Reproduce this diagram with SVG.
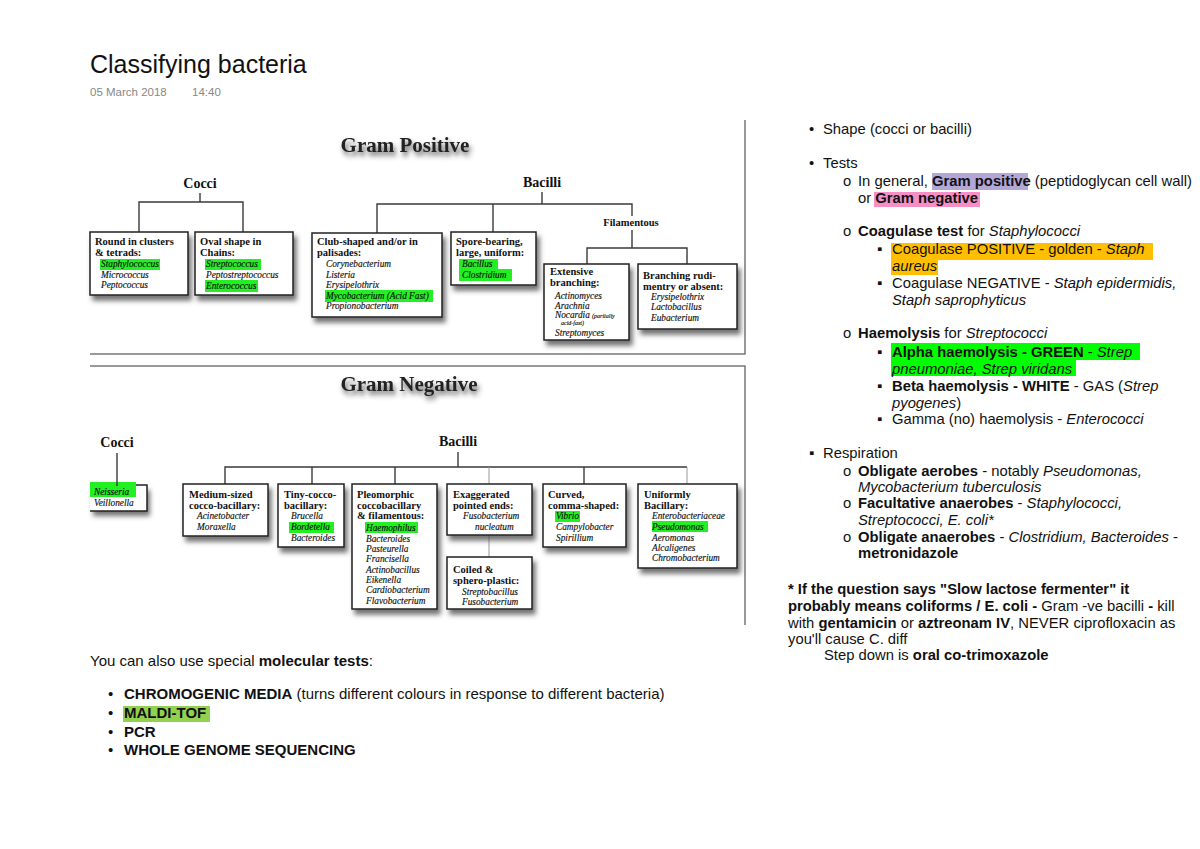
<svg xmlns="http://www.w3.org/2000/svg" width="1200" height="849" viewBox="0 0 1200 849">
<defs>
<filter id="bsh" x="-20%" y="-20%" width="150%" height="160%">
<feDropShadow dx="3" dy="5" stdDeviation="2.5" flood-color="#444" flood-opacity="0.75"/>
</filter>
<filter id="tsh" x="-10%" y="-30%" width="130%" height="180%">
<feDropShadow dx="2" dy="4" stdDeviation="2.5" flood-color="#333" flood-opacity="0.8"/>
</filter>
</defs>
<style>
.sans{font-family:"Liberation Sans",Arial,sans-serif;fill:#111}
.t{font-family:"Liberation Sans",Arial,sans-serif;font-size:14.8px;fill:#111}
.tb{font-family:"Liberation Sans",Arial,sans-serif;font-size:15px;fill:#111}
.b{font-weight:bold}
.i{font-style:italic}
.gt{font-family:"Liberation Serif","Times New Roman",serif;font-weight:bold;font-size:21px;fill:#222;filter:url(#tsh)}
.hd{font-family:"Liberation Serif","Times New Roman",serif;font-weight:bold;font-size:14px;fill:#111}
.h{font-family:"Liberation Serif","Times New Roman",serif;font-weight:bold;font-size:10.5px;fill:#111}
.sp{font-family:"Liberation Serif","Times New Roman",serif;font-style:italic;font-size:9.3px;fill:#111;stroke:#111;stroke-width:0.15}
.sm{font-size:6px}
.box{fill:#fff;stroke:#222;stroke-width:1.5;filter:url(#bsh)}
.hl{fill:#22f022}
.ln{fill:none;stroke:#3a3a3a;stroke-width:1.4}
.lnl{fill:none;stroke:#999;stroke-width:1}
.frame{fill:none;stroke:#777;stroke-width:1.5}
</style>
<rect width="1200" height="849" fill="#fff"/>

<g id="header">
<text class="sans" x="90" y="73" font-size="25">Classifying bacteria</text>
<text x="90" y="96" font-family="Liberation Sans,Arial,sans-serif" font-size="11.5" fill="#888">05 March 2018</text>
<text x="192" y="96" font-family="Liberation Sans,Arial,sans-serif" font-size="11.5" fill="#888">14:40</text>
</g>

<g id="frames">
<path class="frame" d="M90,354 H745 V120"/>
<path class="frame" d="M90,366 H745 V625" stroke-width="2"/>
</g>

<g id="connectors">
<path class="ln" d="M200,193 V202 M139,232 V202 H243 V232"/>
<path class="ln" d="M542,192 V204 M377,233 V204 H632 V216 M493,204 V232"/>
<path class="ln" d="M632,230 V248 M587,264 V248 H687 V264"/>
<path class="ln" d="M117,453 V485"/>
<path class="ln" d="M458,452 V467 M225,484 V467 H687 M312,467 V484 M395,467 V484 M584,467 V484"/>
<path class="lnl" d="M489,467 V484 M687,467 V484 M489,535 V557"/>
</g>

<g id="gram-positive">
<text class="gt" x="405" y="152" text-anchor="middle">Gram Positive</text>
<text class="hd" x="200" y="188" text-anchor="middle">Cocci</text>
<text class="hd" x="542" y="187" text-anchor="middle">Bacilli</text>
<text class="h" x="631" y="226" text-anchor="middle">Filamentous</text>
</g>

<g id="gp-round">
<rect class="box" x="90" y="232" width="98" height="63"/>
<rect class="hl" x="100" y="259" width="60" height="11"/>
<text class="h" x="95" y="245">Round in clusters</text>
<text class="h" x="95" y="256">&amp; tetrads:</text>
<text class="sp" x="101" y="267">Staphylococcus</text>
<text class="sp" x="101" y="277.5">Micrococcus</text>
<text class="sp" x="101" y="288">Peptococcus</text>
</g>

<g id="gp-oval">
<rect class="box" x="195" y="232" width="98" height="63"/>
<rect class="hl" x="205" y="259" width="56" height="11"/>
<rect class="hl" x="205" y="280" width="53" height="12"/>
<text class="h" x="200" y="245">Oval shape in</text>
<text class="h" x="200" y="256">Chains:</text>
<text class="sp" x="206" y="267">Streptococcus</text>
<text class="sp" x="206" y="277.5">Peptostreptococcus</text>
<text class="sp" x="206" y="288.5">Enterococcus</text>
</g>

<g id="gp-club">
<rect class="box" x="312" y="233" width="130" height="84"/>
<rect class="hl" x="325" y="290" width="108" height="12"/>
<text class="h" x="317" y="245">Club-shaped and/or in</text>
<text class="h" x="317" y="256">palisades:</text>
<text class="sp" x="326" y="267">Corynebacterium</text>
<text class="sp" x="326" y="277.5">Listeria</text>
<text class="sp" x="326" y="288">Erysipelothrix</text>
<text class="sp" x="326" y="298.5">Mycobacterium (Acid Fast)</text>
<text class="sp" x="326" y="309">Propionobacterium</text>
</g>

<g id="gp-spore">
<rect class="box" x="451" y="232" width="85" height="53"/>
<rect class="hl" x="459" y="259" width="39" height="11"/>
<rect class="hl" x="459" y="269" width="53" height="12"/>
<text class="h" x="456" y="245">Spore-bearing,</text>
<text class="h" x="456" y="256">large, uniform:</text>
<text class="sp" x="462" y="267">Bacillus</text>
<text class="sp" x="462" y="277.5">Clostridium</text>
</g>

<g id="gp-extensive">
<rect class="box" x="544" y="264" width="85" height="76"/>
<text class="h" x="550" y="275">Extensive</text>
<text class="h" x="550" y="286">branching:</text>
<text class="sp" x="555" y="299">Actinomyces</text>
<text class="sp" x="555" y="309">Arachnia</text>
<text class="sp" x="555" y="318">Nocardia <tspan class="sm">(partially</tspan></text>
<text class="sp sm" x="561" y="325">acid-fast)</text>
<text class="sp" x="555" y="336">Streptomyces</text>
</g>

<g id="gp-rudimentary">
<rect class="box" x="638" y="264" width="99" height="65"/>
<text class="h" x="643" y="279">Branching rudi-</text>
<text class="h" x="643" y="290">mentry or absent:</text>
<text class="sp" x="651" y="300">Erysipelothrix</text>
<text class="sp" x="651" y="310">Lactobacillus</text>
<text class="sp" x="651" y="321">Eubacterium</text>
</g>

<g id="gram-negative">
<text class="gt" x="409" y="391" text-anchor="middle">Gram Negative</text>
<text class="hd" x="117" y="447" text-anchor="middle">Cocci</text>
<text class="hd" x="458" y="446" text-anchor="middle">Bacilli</text>
</g>

<g id="gn-cocci">
<path d="M90,485 H147 V511 H90 Z" fill="#fff" filter="url(#bsh)"/>
<path d="M90,485 H147 V511 H90" fill="none" stroke="#222" stroke-width="1.5"/>
<rect class="hl" x="90" y="482" width="46" height="15"/>
<path class="ln" d="M117,482 V486"/>
<text class="sp" x="94" y="495">Neisseria</text>
<text class="sp" x="94" y="506">Veillonella</text>
</g>

<g id="gn-medium">
<rect class="box" x="183" y="484" width="85" height="52"/>
<text class="h" x="189" y="498">Medium-sized</text>
<text class="h" x="189" y="509">cocco-bacillary:</text>
<text class="sp" x="197" y="519">Acinetobacter</text>
<text class="sp" x="197" y="530">Moraxella</text>
</g>

<g id="gn-tiny">
<rect class="box" x="278" y="484" width="66" height="63"/>
<rect class="hl" x="289" y="522" width="45" height="11"/>
<text class="h" x="284" y="498">Tiny-cocco-</text>
<text class="h" x="284" y="509">bacillary:</text>
<text class="sp" x="291" y="519">Brucella</text>
<text class="sp" x="291" y="530">Bordetella</text>
<text class="sp" x="291" y="541">Bacteroides</text>
</g>

<g id="gn-pleomorphic">
<rect class="box" x="352" y="484" width="85" height="125"/>
<rect class="hl" x="365" y="522" width="53" height="11"/>
<text class="h" x="357" y="498">Pleomorphic</text>
<text class="h" x="357" y="509">coccobacillary</text>
<text class="h" x="357" y="519">&amp; filamentous:</text>
<text class="sp" x="366" y="531">Haemophilus</text>
<text class="sp" x="366" y="541.5">Bacteroides</text>
<text class="sp" x="366" y="552">Pasteurella</text>
<text class="sp" x="366" y="562">Francisella</text>
<text class="sp" x="366" y="572.5">Actinobacillus</text>
<text class="sp" x="366" y="583">Eikenella</text>
<text class="sp" x="366" y="593">Cardiobacterium</text>
<text class="sp" x="366" y="603.5">Flavobacterium</text>
</g>

<g id="gn-exaggerated">
<rect class="box" x="447" y="484" width="85" height="51"/>
<text class="h" x="453" y="498">Exaggerated</text>
<text class="h" x="453" y="509">pointed ends:</text>
<text class="sp" x="463" y="519">Fusobacterium</text>
<text class="sp" x="475" y="530">nucleatum</text>
</g>

<g id="gn-coiled">
<rect class="box" x="447" y="557" width="85" height="52"/>
<text class="h" x="453" y="573">Coiled &amp;</text>
<text class="h" x="453" y="584">sphero-plastic:</text>
<text class="sp" x="462" y="595">Streptobacillus</text>
<text class="sp" x="462" y="605">Fusobacterium</text>
</g>

<g id="gn-curved">
<rect class="box" x="543" y="484" width="83" height="63"/>
<rect class="hl" x="555" y="511" width="25" height="11"/>
<text class="h" x="548" y="498">Curved,</text>
<text class="h" x="548" y="509">comma-shaped:</text>
<text class="sp" x="556" y="519">Vibrio</text>
<text class="sp" x="556" y="530">Campylobacter</text>
<text class="sp" x="556" y="541">Spirillium</text>
</g>

<g id="gn-uniform">
<rect class="box" x="638" y="484" width="99" height="84"/>
<rect class="hl" x="652" y="521" width="56" height="11"/>
<text class="h" x="644" y="498">Uniformly</text>
<text class="h" x="644" y="509">Bacillary:</text>
<text class="sp" x="652" y="519">Enterobacteriaceae</text>
<text class="sp" x="652" y="530">Pseudomonas</text>
<text class="sp" x="652" y="540.5">Aeromonas</text>
<text class="sp" x="652" y="551">Alcaligenes</text>
<text class="sp" x="652" y="561">Chromobacterium</text>
</g>

<g id="notes-right">
<rect x="932" y="173" width="96" height="17" fill="#b4a7d6"/>
<rect x="874" y="192" width="106" height="15" fill="#f78fc7"/>
<rect x="891" y="243" width="262" height="17" fill="#ffbf00"/>
<rect x="891" y="260" width="47" height="15" fill="#ffbf00"/>
<rect x="891" y="343" width="249" height="17" fill="#00ff00"/>
<rect x="891" y="360" width="185" height="16" fill="#00ff00"/>

<text class="t" x="809" y="134">•</text>
<text class="t" x="823" y="134">Shape (cocci or bacilli)</text>
<text class="t" x="809" y="168">•</text>
<text class="t" x="823" y="168">Tests</text>
<text class="t" x="843" y="186" font-size="11">o</text>
<text class="t" x="858" y="186">In general, <tspan class="b">Gram positive</tspan> (peptidoglycan cell wall)</text>
<text class="t" x="858" y="203">or <tspan class="b">Gram negative</tspan></text>
<text class="t" x="843" y="236" font-size="11">o</text>
<text class="t" x="858" y="236"><tspan class="b">Coagulase test</tspan> for <tspan class="i">Staphylococci</tspan></text>
<text class="t" x="877" y="254" font-size="11">▪</text>
<text class="t" x="892" y="254">Coagulase POSITIVE - golden - <tspan class="i">Staph</tspan></text>
<text class="t i" x="892" y="271">aureus</text>
<text class="t" x="877" y="288" font-size="11">▪</text>
<text class="t" x="892" y="288">Coagulase NEGATIVE - <tspan class="i">Staph epidermidis,</tspan></text>
<text class="t i" x="892" y="305">Staph saprophyticus</text>
<text class="t" x="843" y="338" font-size="11">o</text>
<text class="t" x="858" y="338"><tspan class="b">Haemolysis</tspan> for <tspan class="i">Streptococci</tspan></text>
<text class="t" x="877" y="357" font-size="11">▪</text>
<text class="t" x="892" y="357"><tspan class="b">Alpha haemolysis - GREEN</tspan> - <tspan class="i">Strep</tspan></text>
<text class="t i" x="892" y="374">pneumoniae, Strep viridans</text>
<text class="t" x="877" y="391" font-size="11">▪</text>
<text class="t" x="892" y="391"><tspan class="b">Beta haemolysis - WHITE</tspan> - GAS (<tspan class="i">Strep</tspan></text>
<text class="t" x="892" y="408"><tspan class="i">pyogenes</tspan>)</text>
<text class="t" x="877" y="424" font-size="11">▪</text>
<text class="t" x="892" y="424">Gamma (no) haemolysis - <tspan class="i">Enterococci</tspan></text>
<text class="t" x="809" y="458" font-size="11">▪</text>
<text class="t" x="823" y="458">Respiration</text>
<text class="t" x="843" y="476" font-size="11">o</text>
<text class="t" x="858" y="476"><tspan class="b">Obligate aerobes</tspan> - notably <tspan class="i">Pseudomonas,</tspan></text>
<text class="t i" x="858" y="492">Mycobacterium tuberculosis</text>
<text class="t" x="843" y="508" font-size="11">o</text>
<text class="t" x="858" y="508"><tspan class="b">Facultative anaerobes</tspan> - <tspan class="i">Staphylococci,</tspan></text>
<text class="t i" x="858" y="525">Streptococci, E. coli*</text>
<text class="t" x="843" y="542" font-size="11">o</text>
<text class="t" x="858" y="542"><tspan class="b">Obligate anaerobes</tspan> - <tspan class="i">Clostridium, Bacteroides</tspan> -</text>
<text class="t b" x="858" y="558">metronidazole</text>
<text class="t b" x="788" y="594">* If the question says "Slow lactose fermenter" it</text>
<text class="t" x="788" y="611"><tspan class="b">probably means coliforms / E. coli -</tspan> Gram -ve bacilli <tspan class="b">-</tspan> kill</text>
<text class="t" x="788" y="627.5">with <tspan class="b">gentamicin</tspan> or <tspan class="b">aztreonam IV</tspan>, NEVER ciprofloxacin as</text>
<text class="t" x="788" y="644">you'll cause C. diff</text>
<text class="t" x="824" y="660">Step down is <tspan class="b">oral co-trimoxazole</tspan></text>
</g>

<g id="notes-bottom">
<rect x="123" y="706" width="87" height="16" fill="#92d050"/>
<text class="tb" x="90" y="666">You can also use special <tspan class="b">molecular tests</tspan>:</text>
<text class="tb" x="108" y="699">•</text>
<text class="tb" x="124" y="699"><tspan class="b">CHROMOGENIC MEDIA</tspan> (turns different colours in response to different bacteria)</text>
<text class="tb" x="108" y="718">•</text>
<text class="tb b" x="124" y="718">MALDI-TOF</text>
<text class="tb" x="108" y="737">•</text>
<text class="tb b" x="124" y="737">PCR</text>
<text class="tb" x="108" y="755">•</text>
<text class="tb b" x="124" y="755">WHOLE GENOME SEQUENCING</text>
</g>
</svg>
